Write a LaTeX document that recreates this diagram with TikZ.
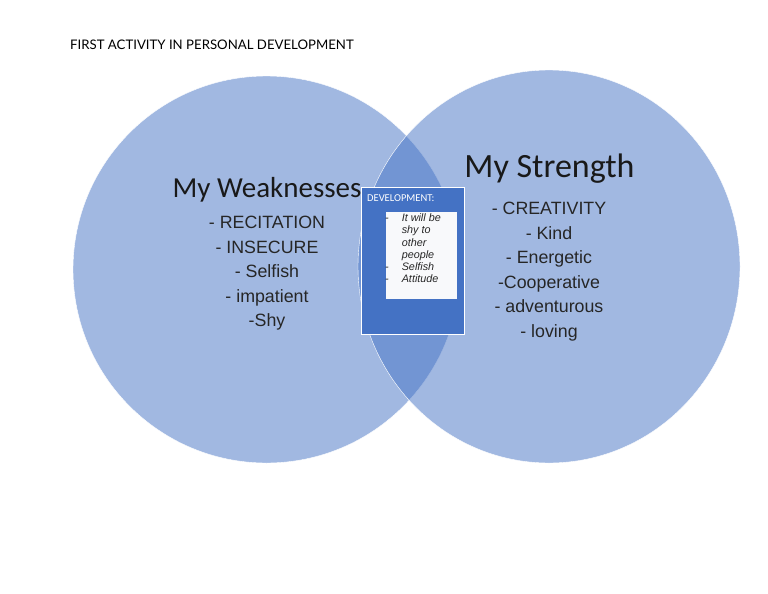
\documentclass[tikz,border=0pt]{standalone}
\usepackage{fontspec}
\setmainfont{Carlito}
\newfontfamily\arialfont{Liberation Sans}
\newfontfamily\latofont{Lato}
\usetikzlibrary{shapes.geometric, positioning}
\definecolor{vennblue}{HTML}{4472C4}
\definecolor{paleback}{HTML}{F8F9FB}

\begin{document}
\begin{tikzpicture}[x=1pt, y=-1pt,
        venn/.style={fill=vennblue, fill opacity=0.5, draw=white, thin, inner sep=0pt},
        heading/.style={text=black!90, inner sep=0pt},
        items/.style={font=\arialfont\fontsize{17.8}{24.5}\selectfont, align=center, text=black!85, inner sep=0pt},
        devbox/.style={rectangle, draw=white, fill=vennblue, minimum width=103pt, minimum height=147pt, anchor=north west, inner sep=0pt},
        notebox/.style={rectangle, fill=paleback, minimum width=71pt, minimum height=87pt, anchor=north west, inner sep=0pt},
        notes/.style={font=\arialfont\itshape\fontsize{10.8}{12.2}\selectfont, text=black!85, anchor=north west, inner sep=0pt}
    ]
    \useasboundingbox (0,0) rectangle (768,594);

    % Title
    \node[anchor=west, inner sep=0pt, font=\latofont\fontsize{13.2}{15}\selectfont] (title) at (70,45) {FIRST ACTIVITY IN PERSONAL DEVELOPMENT};

    % Venn circles
    \node[venn, circle, minimum size=387pt] (weak) at (266.5,269.5) {};
    \node[venn, ellipse, minimum width=382pt, minimum height=393pt] (strong) at (549,266.5) {};

    % Texts in the circles
    \node[heading, font=\fontsize{29}{31}\selectfont] (weakhead) at (267,190) {My Weaknesses};
    \node[items, anchor=north] (weaklist) at (267,216) {- RECITATION\\- INSECURE\\- Selfish\\- impatient\\-Shy};
    \node[heading, font=\fontsize{34}{36}\selectfont] (stronghead) at (549.5,169) {My Strength};
    \node[items, anchor=north] (stronglist) at (549,202) {- CREATIVITY\\- Kind\\- Energetic\\-Cooperative\\- adventurous\\- loving};

    % Development box
    \node[devbox] (dev) at (361,187) {};
    \node[anchor=west, inner sep=0pt, text=white, font=\fontsize{10.5}{12}\selectfont] (devhead) at (367,198) {DEVELOPMENT:};
    \node[notebox] (note) at (386,212) {};
    \node[notes] (notetext) at (385,213) {\begin{tabular}{@{}l@{\hspace{13pt}}l@{}}
        - & It will be\\ & shy to\\ & other\\ & people\\
        - & Selfish\\ - & Attitude
    \end{tabular}};

\end{tikzpicture}
\end{document}
